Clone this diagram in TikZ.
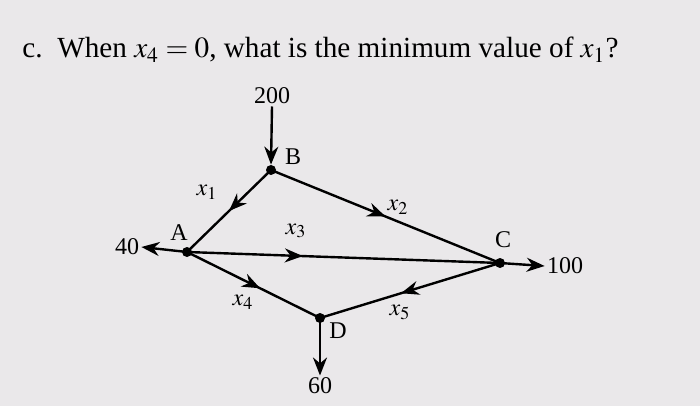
\documentclass[tikz,border=0pt]{standalone}
\usepackage{mathptmx}
\usepackage[no-math]{fontspec}
\setmainfont{Liberation Serif}
\usetikzlibrary{arrows, arrows.meta, calc, positioning, decorations, decorations.markings}

\definecolor{paper}{RGB}{234,232,234}
\tikzset{
    flow/.style={line width=1.2pt},
    midarrow/.style={flow, decoration={markings,
        mark=at position #1 with {\arrow{Stealth[length=9pt,width=7pt]}}},
        postaction={decorate}},
    outarrow/.style={flow, -{Stealth[length=9pt,width=7pt]}},
    junction/.style={circle, fill=black, inner sep=0pt, minimum size=5pt},
    lbl/.style={font=\fontsize{12}{13}\selectfont, inner sep=1pt}
}

\begin{document}
\begin{tikzpicture}[x=0.5pt, y=-0.5pt]
                    \fill [paper] (0, 0) rectangle (700, 406);
                    \useasboundingbox (0, 0) rectangle (700, 406);

                    \node [anchor=base west, inner sep=0pt, font=\fontsize{14.6}{16}\selectfont] (Title) at (22, 58)
                        { c.\ \ When $x_4 = 0$, what is the minimum value of $x_1$? };

                    \node [junction] (A) at (187, 252) {};
                    \node [junction] (B) at (271, 170) {};
                    \node [junction] (C) at (500, 263) {};
                    \node [junction] (D) at (320, 318) {};

                    \node [lbl] (Na) at (179, 233) { A };
                    \node [lbl] (Nb) at (293, 157) { B };
                    \node [lbl] (Nc) at (503, 240) { C };
                    \node [lbl] (Nd) at (338, 331) { D };

                    \node [lbl] (V200) at (272, 96) { 200 };
                    \node [lbl] (V40) at (127, 247) { 40 };
                    \node [lbl] (V100) at (565, 266) { 100 };
                    \node [lbl] (V60) at (320, 386) { 60 };

                    \node [lbl] (X1) at (207, 192) { $x_1$ };
                    \node [lbl] (X2) at (398, 207) { $x_2$ };
                    \node [lbl] (X3) at (296, 231) { $x_3$ };
                    \node [lbl] (X4) at (243, 302) { $x_4$ };
                    \node [lbl] (X5) at (400, 312) { $x_5$ };

                    \draw [midarrow=0.5] (B.center) -- (A.center);
                    \draw [midarrow=0.5] (B.center) -- (C.center);
                    \draw [midarrow=0.37] (A.center) -- (C.center);
                    \draw [midarrow=0.55] (A.center) -- (D.center);
                    \draw [midarrow=0.55] (C.center) -- (D.center);

                    \draw [outarrow] (V200.south) -- (B.north);
                    \draw [outarrow] (A.center) -- (V40.east);
                    \draw [outarrow] (C.center) -- (V100.west);
                    \draw [outarrow] (D.center) -- (V60.north);
            \end{tikzpicture}
\end{document}
